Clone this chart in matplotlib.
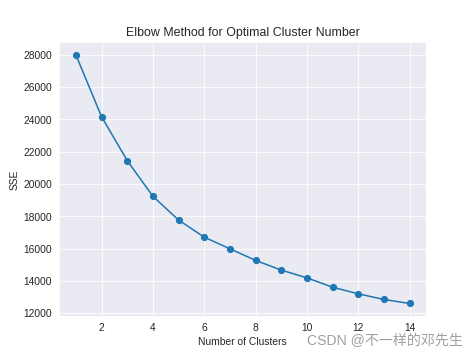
import matplotlib
matplotlib.use("Agg")
import matplotlib.pyplot as plt
import seaborn as sns

# cluster counts and SSE
clusters = list(range(1, 15))
sse = [28000, 24170, 21450, 19240, 17770, 16710, 15990,
       15270, 14670, 14190, 13610, 13200, 12850, 12600]

sns.set_style("darkgrid")
plt.rcParams["font.family"] = ["Liberation Sans", "Noto Sans CJK SC", "DejaVu Sans"]

fig, ax = plt.subplots(figsize=(6.4, 4.8), dpi=74)
ax.plot(clusters, sse, marker="o", color="#1f77b4")
ax.set_title("Elbow Method for Optimal Cluster Number", fontsize=12)
ax.set_xlabel("Number of Clusters")
ax.set_ylabel("SSE")

# watermark
fig.text(0.977, 0.04, "CSDN @不一样的邓先生", ha="right", va="center",
         fontsize=13.6, color="#a0a0a0")

fig.savefig("out.png", dpi=74)
